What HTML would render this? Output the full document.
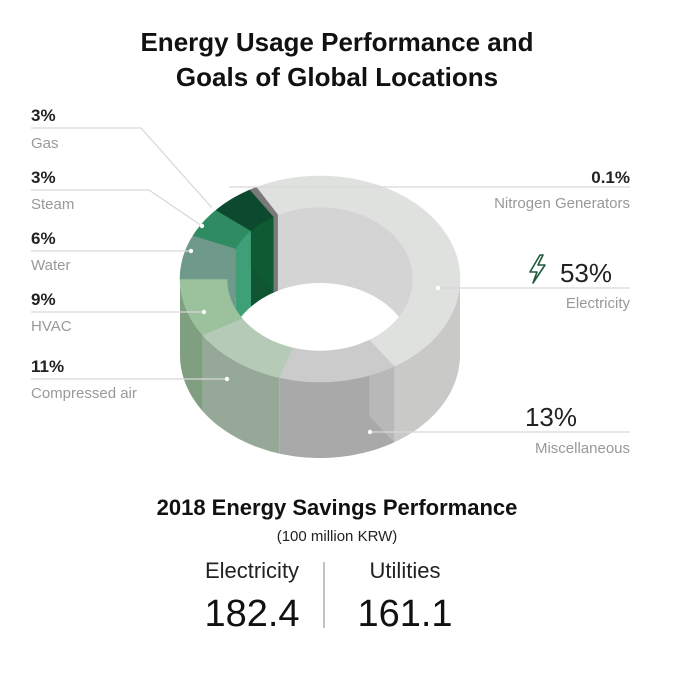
<!DOCTYPE html>
<html><head><meta charset="utf-8"><style>
html,body{margin:0;padding:0;background:#fff}
svg{display:block;font-family:"Liberation Sans","DejaVu Sans",sans-serif}
</style></head><body>
<svg id="s" width="673" height="673" viewBox="0 0 673 673" xmlns="http://www.w3.org/2000/svg">
<defs><clipPath id="hole"><ellipse cx="320" cy="279" rx="93" ry="72"/></clipPath></defs>
<g id="donut"></g>
<g font-family="Liberation Sans, DejaVu Sans, sans-serif">
<text x="337" y="51" text-anchor="middle" font-size="26" font-weight="bold" fill="#111">Energy Usage Performance and</text>
<text x="337" y="86" text-anchor="middle" font-size="26" font-weight="bold" fill="#111">Goals of Global Locations</text>
<g stroke="#d8d8d8" stroke-width="1.3" fill="none">
<polyline points="31,128 141,128 213,209"/>
<polyline points="31,190 149,190 202,226"/>
<polyline points="31,251 191,251"/>
<polyline points="31,312 204,312"/>
<polyline points="31,379 227,379"/>
<polyline points="227,187 630,187"/>
<polyline points="438,288 630,288"/>
<polyline points="370,432 630,432"/>
</g>
<g fill="#fff"><circle cx="213" cy="209" r="2.2"/><circle cx="202" cy="226" r="2.2"/><circle cx="191" cy="251" r="2.2"/><circle cx="204" cy="312" r="2.2"/><circle cx="227" cy="379" r="2.2"/><circle cx="227" cy="187" r="2.2"/><circle cx="438" cy="288" r="2.2"/><circle cx="370" cy="432" r="2.2"/></g>
<g font-size="17" font-weight="bold" fill="#222">
<text x="31" y="121">3%</text><text x="31" y="183">3%</text><text x="31" y="244">6%</text><text x="31" y="305">9%</text><text x="31" y="372">11%</text>
<text x="630" y="183" text-anchor="end">0.1%</text>
</g>
<g font-size="15" fill="#999">
<text x="31" y="148">Gas</text><text x="31" y="209">Steam</text><text x="31" y="270">Water</text><text x="31" y="331">HVAC</text><text x="31" y="398">Compressed air</text>
<text x="630" y="208" text-anchor="end">Nitrogen Generators</text>
<text x="630" y="308" text-anchor="end">Electricity</text>
<text x="630" y="453" text-anchor="end">Miscellaneous</text>
</g>
<text x="612" y="282" text-anchor="end" font-size="26" fill="#222">53%</text>
<text x="577" y="426" text-anchor="end" font-size="26" fill="#222">13%</text>
<path d="M540,255 L530,272 L537,272 L533,283 L545,265 L538,265 L543,255 Z" fill="none" stroke="#1e5a3a" stroke-width="1.6" stroke-linejoin="round"/>
<text x="337" y="515" text-anchor="middle" font-size="22" font-weight="bold" fill="#111">2018 Energy Savings Performance</text>
<text x="337" y="541" text-anchor="middle" font-size="15" fill="#222">(100 million KRW)</text>
<text x="252" y="578" text-anchor="middle" font-size="22" fill="#222">Electricity</text>
<text x="405" y="578" text-anchor="middle" font-size="22" fill="#222">Utilities</text>
<text x="252" y="626" text-anchor="middle" font-size="38" fill="#111">182.4</text>
<text x="405" y="626" text-anchor="middle" font-size="38" fill="#111">161.1</text>
<line x1="324" y1="562" x2="324" y2="628" stroke="#aab0b5" stroke-width="1.5"/>
</g>
</svg>
<script>
(function(){
var cx=320,cy=279,R=140,RY=103,r=93,ry=72,H=76;
var D=Math.PI/180;
var segs=[
 {a:-117,b:58,top:'#dfe1df',wall:'#c9cac8',inw:'#d4d4d4',face:'#b8b8b8'},
 {a:58,b:107,top:'#cbcbcb',wall:'#a9a9a9',inw:'#c4c4c4',face:'#bcbcbc'},
 {a:107,b:147,top:'#b5cbb8',wall:'#96a898',inw:'#a9bfac',face:'#a0b5a3'},
 {a:147,b:180,top:'#9bc19d',wall:'#7f9f80',inw:'#8aa98c',face:'#8db08f'},
 {a:180,b:205,top:'#6f998b',wall:'#678a7d',inw:'#6f998b',face:'#5f8275'},
 {a:205,b:222,top:'#2e8b62',wall:'#257250',inw:'#3fa077',face:'#2a7a55'},
 {a:222,b:240,top:'#0b4a2e',wall:'#08381f',inw:'#0f5532',face:'#0d5a33'},
 {a:240,b:243,top:'#7a7a7a',wall:'#666',inw:'#777',face:'#888'}
];
function P(rx,ryy,t,dy){return [cx+rx*Math.cos(t*D),cy+ryy*Math.sin(t*D)+(dy||0)];}
function arc(rx,ryy,a,b,dy){var s=[];var n=Math.max(4,Math.ceil(Math.abs(b-a)/2));for(var i=0;i<=n;i++){var t=a+(b-a)*i/n;var p=P(rx,ryy,t,dy);s.push(p[0].toFixed(1)+','+p[1].toFixed(1));}return s;}
var out='';
function poly(pts,fill,extra){out+='<polygon points="'+pts.join(' ')+'" fill="'+fill+'" '+(extra||'')+'/>';}
// hole background
out+='<ellipse cx="'+cx+'" cy="'+cy+'" rx="'+r+'" ry="'+ry+'" fill="#fff"/>';
// inner walls (back half) clipped
out+='<g clip-path="url(#hole)">';
segs.forEach(function(s){
 var a=s.a,b=s.b;
 // normalize into range 180..360 for back
 var ranges=[[a,b],[a-360,b-360],[a+360,b+360]];
 ranges.forEach(function(rg){
  var lo=Math.max(rg[0],180),hi=Math.min(rg[1],360);
  if(hi>lo){var t=arc(r,ry,lo,hi,0),bt=arc(r,ry,hi,lo,H);poly(t.concat(bt),s.inw);}
 });
});
out+='</g>';
// outer walls (front)
segs.forEach(function(s){
 var ranges=[[s.a,s.b],[s.a-360,s.b-360]];
 ranges.forEach(function(rg){
  var lo=Math.max(rg[0],0),hi=Math.min(rg[1],180);
  if(hi>lo){var t=arc(R,RY,lo,hi,0),bt=arc(R,RY,hi,lo,H);poly(t.concat(bt),s.wall);}
 });
});
// end faces
function face(t,fill){var a=P(r,ry,t),b=P(R,RY,t);poly([a,b,[b[0],b[1]+H],[a[0],a[1]+H]].map(function(p){return p[0].toFixed(1)+','+p[1].toFixed(1)}),fill);}
face(58,'#b8b8b8');
face(-117,'#7a7a7a');face(240-360+0.001,'#0d5a33');face(222-360,'#3fa077');face(205-360,'#6f998b');
// top faces
segs.forEach(function(s){
 var t=arc(R,RY,s.a,s.b,0),i=arc(r,ry,s.b,s.a,0);poly(t.concat(i),s.top,'stroke="'+s.top+'" stroke-width="0.5"');
});
document.getElementById('donut').innerHTML=out;
})();
</script>
</body></html>
